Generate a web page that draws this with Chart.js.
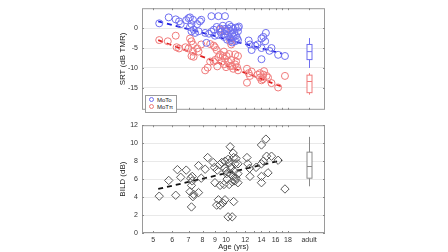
<!DOCTYPE html>
<html>
<head>
<meta charset="utf-8">
<script src="https://cdn.jsdelivr.net/npm/chart.js@4.4.1/dist/chart.umd.min.js"></script>
<style>
  html, body { margin: 0; padding: 0; background: #fff; }
  #wrap { position: relative; width: 448px; height: 252px; overflow: hidden; font-family: "Liberation Sans", Arial, sans-serif; }
  #srtChart { position: absolute; left: 0; top: 0; }
  #bildChart { position: absolute; left: 0; top: 117px; }
  #legend { position: absolute; left: 145px; top: 95px; width: 28px; padding: 1px 0 1px 2px; border: 1px solid #9a9a9a; background: #fff; font-size: 6px; line-height: 7px; color: #222; }
  #legend .mk { display: inline-block; width: 3px; height: 3px; border: 1px solid; border-radius: 50%; margin: 0 3px 0 1px; vertical-align: 0; }
</style>
</head>
<body>
<div id="wrap">
  <canvas id="srtChart" width="448" height="118"></canvas>
  <canvas id="bildChart" width="448" height="135"></canvas>
  <div id="legend">
    <div><span class="mk" style="border-color:#6f6ff0"></span>MoTo</div>
    <div><span class="mk" style="border-color:#f07a7a"></span>MoTπ</div>
  </div>
</div>
<script>
// x axis: age on a log scale, "adult" placed after 18
const ageTicks = [5, 6, 7, 8, 9, 10, 11, 12, 13, 14, 15, 16, 17, 18, 22];
const ageLabels = ['5', '6', '7', '8', '9', '10', '', '12', '', '14', '', '16', '', '18', 'adult'];
const adultAge = 22;

const srtTicks = [-15, -10, -5, 0];
const bildTicks = [0, 2, 4, 6, 8, 10, 12];

// SRT, MoTo condition
const moToAge = [5.3, 5.8, 6.2, 6.4, 6.5, 6.85, 7.1, 7.3, 7.2, 7.6, 7.8, 7.9, 7.1, 7.2, 7.35, 7.45, 7.7,
  8.7, 9.3, 9.9, 8.2, 8.5, 8.9, 9.15, 9.45, 9.6, 9.9, 10.05, 10.2, 10.4, 10.7, 10.95, 11.2,
  9.0, 9.3, 9.8, 9.9, 10.2, 10.4, 10.6, 10.75, 11.0, 11.2, 10.9, 10.5, 8.3, 11.2, 10.5, 11.3,
  12.4, 12.55, 12.75, 13.2, 13.5, 14.0, 14.25, 14.6, 14.5, 14.0, 15.1, 15.4, 14.0, 16.4, 17.5,
  9.7, 10.3, 10.8, 10.1, 11.1, 9.5, 8.7, 10.6, 7.0];
const moToSRT = [1.2, 2.7, 2.2, 1.7, 1.0, 2.0, 2.7, 2.1, 1.0, 1.0, 1.7, 2.1, 0.3, -0.8, -0.4, -1.2, -0.8,
  3.0, 3.0, 3.0, -1.2, -1.4, -0.4, 0.3, -0.1, -0.8, -0.2, -0.8, -0.1, -0.65, -0.2, 0.1, 0.1,
  -1.9, -1.7, -2.2, -1.5, -1.9, -2.6, -1.5, -2.2, -1.9, -3.0, -3.3, -3.0, -3.7, -0.8, 0.3, 0.4,
  -3.1, -4.1, -5.5, -4.4, -4.1, -2.6, -2.2, -1.2, -3.3, -5.0, -5.7, -5.0, -7.8, -6.7, -7.0,
  0.6, 0.8, -1.2, -2.9, -2.5, -1.0, -0.9, -3.6, 2.5];

// SRT, MoTpi condition
const moTpiAge = [5.3, 5.75, 6.2, 6.25, 6.4, 6.8, 7.0, 7.1, 7.2, 7.3, 7.3, 7.2, 7.35, 7.6, 7.7, 7.9,
  8.2, 8.4, 8.9, 9.0, 9.15, 8.9, 9.0, 9.3, 9.45, 9.6, 9.8, 9.45, 9.9, 9.8, 9.9, 10.05, 10.2,
  10.4, 10.5, 10.7, 10.9, 11.0, 11.2, 10.9, 11.2, 10.4, 10.5, 12.2, 12.4, 12.55, 12.2, 13.5,
  13.8, 14.0, 14.25, 14.35, 14.7, 14.9, 15.4, 16.4, 17.5, 8.6, 9.2, 10.0, 10.6, 11.1, 9.7,
  10.3, 8.6, 12.75, 13.8, 14.2];
const moTpiSRT = [-3.0, -3.3, -1.9, -4.8, -5.1, -4.8, -5.1, -2.6, -3.3, -4.1, -5.9, -7.0, -7.2, -5.1, -5.9, -4.1,
  -10.6, -9.9, -4.4, -4.8, -5.5, -8.4, -8.0, -7.3, -6.6, -8.4, -5.9, -0.4, -0.8, -9.1, -7.7, -7.0, -8.4,
  -9.5, -8.0, -10.2, -9.1, -8.4, -7.0, -6.6, -10.6, -3.3, -4.1, -10.2, -11.3, -12.0, -13.7, -11.7,
  -12.4, -13.1, -11.7, -10.8, -12.0, -12.4, -13.8, -14.9, -12.0, -8.4, -9.6, -9.8, -9.5, -9.8, -7.0,
  -6.5, -4.0, -10.9, -11.3, -12.8];

// BILD
const bildAge = [5.3, 5.8, 6.2, 6.3, 6.5, 6.85, 7.1, 7.15, 7.25, 7.2, 7.35, 7.3, 7.2, 7.7, 7.7, 7.9,
  8.2, 8.4, 8.85, 8.95, 9.2, 9.0, 9.15, 9.45, 9.3, 9.45, 9.8, 9.6, 9.9, 9.9, 10.05, 9.9, 9.7,
  10.2, 10.6, 10.1, 10.3, 10.4, 10.7, 10.75, 10.9, 10.5, 10.4, 10.7, 10.9, 10.6, 10.75, 11.2,
  11.2, 11.0, 11.2, 12.2, 12.3, 12.5, 12.55, 13.3, 14.0, 14.6, 14.0, 14.25, 14.7, 14.0, 14.0,
  14.9, 15.4, 16.4, 17.5, 7.25, 10.2, 11.0, 10.0, 9.4, 10.3, 10.8];
const bildVal = [4.1, 5.85, 4.2, 7.05, 6.2, 7.0, 4.6, 6.1, 5.8, 5.3, 4.3, 4.05, 2.9, 4.5, 7.5, 6.1,
  7.1, 8.4, 7.85, 7.3, 7.0, 5.6, 3.1, 3.1, 3.7, 5.3, 5.4, 7.85, 8.0, 7.2, 6.6, 3.7, 3.35,
  1.8, 1.8, 6.0, 5.4, 9.6, 8.9, 8.4, 7.7, 7.3, 6.6, 6.3, 5.8, 5.7, 3.5, 7.7,
  6.6, 6.1, 5.6, 8.4, 7.7, 7.2, 6.3, 7.3, 9.8, 10.45, 7.7, 8.0, 8.55, 6.3, 5.6,
  6.7, 8.55, 8.1, 4.9, 6.3, 8.2, 8.3, 6.9, 7.6, 7.8, 6.9];

// regression line end points
const fitAge = [5.25, 17];
const moToFit = [1.7, -6.4];
const moTpiFit = [-3.0, -14.7];
const bildFit = [4.9, 8.1];

// adult box plots: min, q1, median, q3, max
const adultMoTo = [-10.0, -7.9, -5.9, -4.1, -2.5];
const adultMoTpi = [-16.7, -16.2, -13.4, -11.8, -11.3];
const adultBild = [5.2, 6.1, 7.4, 9.0, 10.7];

const BLUE = '#6f6ff0';
const RED = '#f07a7a';
const GRAY = '#5a5a5a';
const FONT = 'Liberation Sans';

function pts(xs, ys) {
  return xs.map((x, i) => ({ x: x, y: ys[i] }));
}

// frame around the plot area, plus the adult box plots
const framePlugin = {
  id: 'frame',
  beforeDatasetsDraw(chart) {
    const { ctx, chartArea: a } = chart;
    ctx.save();
    ctx.strokeStyle = '#9a9a9a';
    ctx.lineWidth = 1;
    ctx.strokeRect(a.left + 0.5, a.top + 0.5, a.right - a.left - 1, a.bottom - a.top - 1);
    // small inward tick marks
    ctx.strokeStyle = '#8a8a8a';
    chart.scales.x.ticks.forEach(t => {
      const px = Math.round(chart.scales.x.getPixelForValue(t.value)) + 0.5;
      ctx.beginPath();
      ctx.moveTo(px, a.bottom); ctx.lineTo(px, a.bottom - 2);
      ctx.moveTo(px, a.top); ctx.lineTo(px, a.top + 2);
      ctx.stroke();
    });
    chart.scales.y.ticks.forEach(t => {
      const py = Math.round(chart.scales.y.getPixelForValue(t.value)) + 0.5;
      ctx.beginPath();
      ctx.moveTo(a.left, py); ctx.lineTo(a.left + 2, py);
      ctx.moveTo(a.right, py); ctx.lineTo(a.right - 2, py);
      ctx.stroke();
    });
    ctx.restore();
  },
  afterDatasetsDraw(chart) {
    const boxes = chart.options.plugins.frame.boxes || [];
    const { ctx } = chart;
    const xs = chart.scales.x, ys = chart.scales.y;
    boxes.forEach(b => {
      const s = b.stats;
      const cx = Math.round(xs.getPixelForValue(adultAge)) + 0.5;
      const y = s.map(v => ys.getPixelForValue(v));
      const w = 5;
      ctx.save();
      ctx.strokeStyle = b.color;
      ctx.lineWidth = 1;
      ctx.beginPath();
      ctx.moveTo(cx, y[0]); ctx.lineTo(cx, y[1]);
      ctx.moveTo(cx, y[3]); ctx.lineTo(cx, y[4]);
      ctx.stroke();
      ctx.fillStyle = '#fff';
      ctx.fillRect(cx - w / 2, y[3], w, y[1] - y[3]);
      ctx.strokeRect(cx - w / 2, y[3], w, y[1] - y[3]);
      ctx.beginPath();
      ctx.moveTo(cx - w / 2, y[2]); ctx.lineTo(cx + w / 2, y[2]);
      ctx.stroke();
      ctx.restore();
    });
  }
};

function xAxis(showLabels) {
  return {
    type: 'logarithmic',
    min: 4.5,
    max: 25.6,
    afterBuildTicks: axis => { axis.ticks = ageTicks.map(v => ({ value: v })); },
    afterFit: scale => { scale.height = showLabels ? 19 : 0; },
    grid: { display: false, drawTicks: false },
    border: { display: false },
    ticks: {
      display: showLabels,
      autoSkip: false,
      maxRotation: 0,
      padding: 3,
      color: '#333',
      font: { family: FONT, size: 7 },
      callback: (v, i) => ageLabels[i]
    },
    title: {
      display: showLabels,
      text: 'Age (yrs)',
      color: '#222',
      font: { family: FONT, size: 7.5 },
      padding: { top: 0, bottom: 1 }
    }
  };
}

function yAxis(min, max, tickVals, label) {
  return {
    min: min,
    max: max,
    afterBuildTicks: axis => { axis.ticks = tickVals.map(v => ({ value: v })); },
    afterFit: scale => { scale.width = 24; },
    grid: { color: '#e9e9e9', drawTicks: false },
    border: { display: false },
    ticks: { padding: 4, color: '#333', font: { family: FONT, size: 7 } },
    title: {
      display: true,
      text: label,
      color: '#222',
      font: { family: FONT, size: 8 },
      padding: 0
    }
  };
}

function scatterSet(data, color, style, radius) {
  return {
    type: 'scatter',
    data: data,
    pointStyle: style,
    pointRadius: radius,
    pointBorderWidth: 1,
    pointBorderColor: color,
    pointBackgroundColor: 'rgba(0,0,0,0)',
    showLine: false
  };
}

function fitSet(data, color) {
  return {
    type: 'line',
    data: data,
    borderColor: color,
    borderWidth: 1.8,
    borderDash: [5, 4],
    pointRadius: 0,
    fill: false
  };
}

new Chart(document.getElementById('srtChart'), {
  type: 'scatter',
  data: {
    datasets: [
      scatterSet(pts(moToAge, moToSRT), BLUE, 'circle', 3.5),
      scatterSet(pts(moTpiAge, moTpiSRT), RED, 'circle', 3.5),
      fitSet(pts(fitAge, moToFit), '#1f1fe0'),
      fitSet(pts(fitAge, moTpiFit), '#e01f1f')
    ]
  },
  options: {
    responsive: false,
    animation: false,
    events: [],
    layout: { padding: { left: 118, right: 123, top: 1, bottom: 2 } },
    scales: {
      x: xAxis(false),
      y: yAxis(-20.5, 5, srtTicks, 'SRT (dB TMR)')
    },
    plugins: {
      legend: { display: false },
      tooltip: { enabled: false },
      frame: { boxes: [{ stats: adultMoTo, color: BLUE }, { stats: adultMoTpi, color: RED }] }
    }
  },
  plugins: [framePlugin]
});

new Chart(document.getElementById('bildChart'), {
  type: 'scatter',
  data: {
    datasets: [
      scatterSet(pts(bildAge, bildVal), GRAY, 'rectRot', 4.2),
      fitSet(pts(fitAge, bildFit), '#111')
    ]
  },
  options: {
    responsive: false,
    animation: false,
    events: [],
    layout: { padding: { left: 118, right: 123, top: 1, bottom: 0 } },
    scales: {
      x: xAxis(true),
      y: yAxis(0, 12, bildTicks, 'BILD (dB)')
    },
    plugins: {
      legend: { display: false },
      tooltip: { enabled: false },
      frame: { boxes: [{ stats: adultBild, color: '#8a8a8a' }] }
    }
  },
  plugins: [framePlugin]
});
</script>
</body>
</html>
